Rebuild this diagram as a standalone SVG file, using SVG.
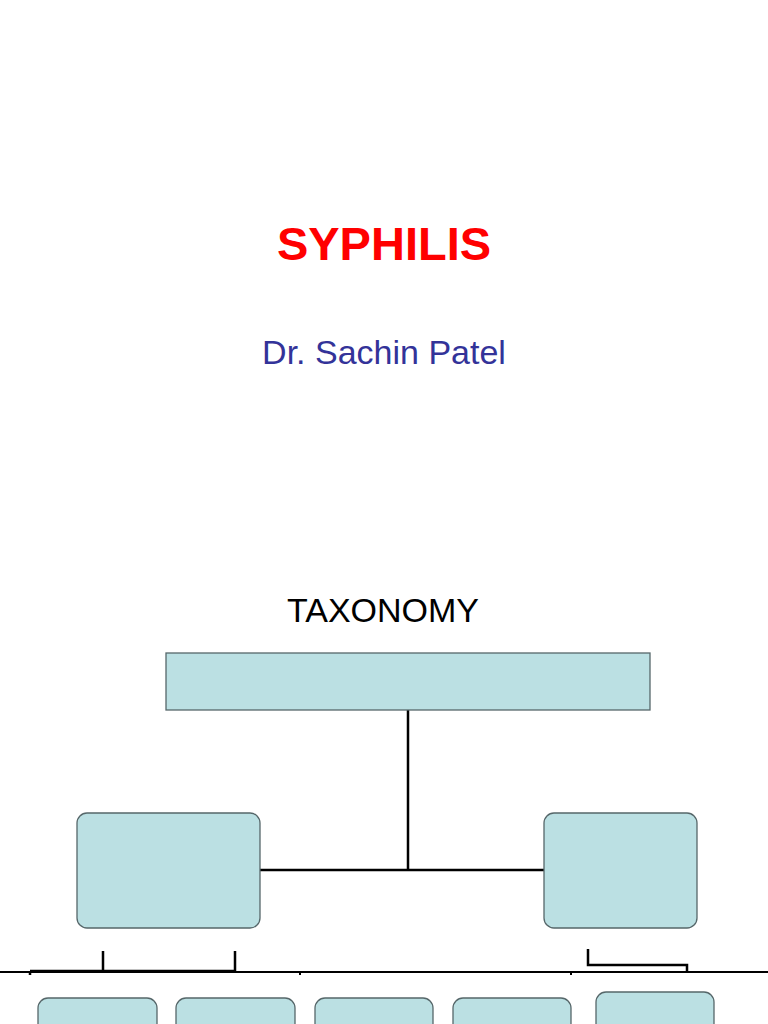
<svg xmlns="http://www.w3.org/2000/svg" width="768" height="1024" viewBox="0 0 768 1024">
<style>
.box{fill:#BBE0E3;stroke:#56676a;stroke-width:1.3}
.ln{stroke:#000;stroke-width:2.5;fill:none}
.thin{stroke:#000;stroke-width:2;fill:none}
text{font-family:"Liberation Sans",Arial,sans-serif;text-anchor:middle}
</style>
<rect width="768" height="1024" fill="#fff"/>
<text x="384" y="260" font-size="47" font-weight="bold" fill="#FF0000">SYPHILIS</text>
<text x="384" y="364" font-size="34" fill="#333399">Dr. Sachin Patel</text>
<text x="383" y="622" font-size="34" fill="#000">TAXONOMY</text>
<g id="connectors">
<path class="ln" d="M408 710V870M260 870H544"/>
<path class="thin" d="M0 972H768"/>
<path class="ln" d="M30 971H235M103 951V971M235 951V971M30 971V975"/>
<path class="thin" d="M300 972V975M571 972V975"/>
<path class="ln" d="M588 949V965H687V972"/>
</g>
<g id="root"><rect class="box" x="166" y="653" width="484" height="57"/></g>
<g id="left"><rect class="box" x="77" y="813" width="183" height="115" rx="10"/></g>
<g id="right"><rect class="box" x="544" y="813" width="153" height="115" rx="10"/></g>
<g id="c1"><rect class="box" x="38" y="998" width="119" height="40" rx="10"/></g>
<g id="c2"><rect class="box" x="176" y="998" width="119" height="40" rx="10"/></g>
<g id="c3"><rect class="box" x="315" y="998" width="118" height="40" rx="10"/></g>
<g id="c4"><rect class="box" x="453" y="998" width="118" height="40" rx="10"/></g>
<g id="c5"><rect class="box" x="596" y="992" width="118" height="46" rx="10"/></g>
</svg>
